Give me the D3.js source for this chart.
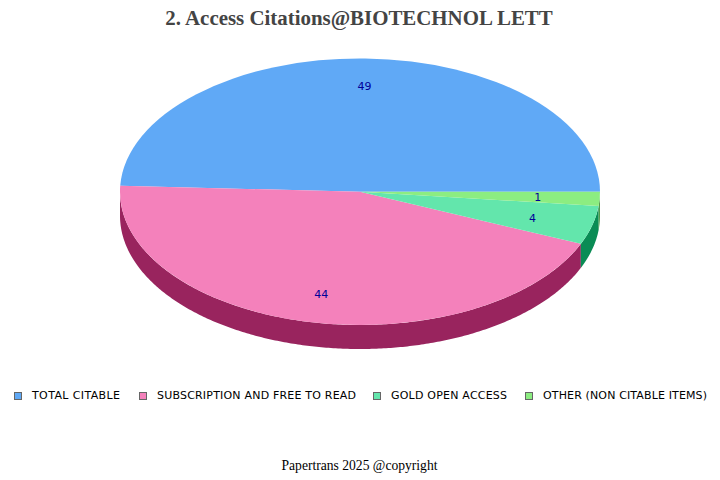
<!DOCTYPE html>
<html>
<head>
<meta charset="utf-8">
<script src="https://cdn.jsdelivr.net/npm/d3@7"></script>
<style>
  html, body { margin: 0; padding: 0; background: #fff; }
</style>
</head>
<body>
<div id="chart"></div>
<script>
// Data
const categories = ["TOTAL CITABLE", "SUBSCRIPTION AND FREE TO READ", "GOLD OPEN ACCESS", "OTHER (NON CITABLE ITEMS)"];
const shares = [49.3, 44.3, 4.7, 1.7];
const shownLabels = [49, 44, 4, 1];
const topColors = ["#60A9F6", "#F481BB", "#63E6AC", "#8CED81"];
const sideColors = ["#2A6CB0", "#99245E", "#0A8C55", "#4F9A4A"];

const width = 720, height = 480;
const cx = 360, cy = 191.7, rx = 240, ry = 133.3, depth = 24;

// Legend layout: left edge of each swatch and width of each text
const legendLefts = [14, 139, 373, 525];
const legendTextWidths = [88, 199, 116, 164];

const svg = d3.select("#chart").append("svg")
    .attr("width", width)
    .attr("height", height)
    .style("display", "block");

svg.append("text")
    .attr("x", 359)
    .attr("y", 25)
    .attr("text-anchor", "middle")
    .attr("font-family", "'Liberation Serif'")
    .attr("font-weight", "bold")
    .attr("font-size", 20.9)
    .attr("fill", "#444444")
    .text("2. Access Citations@BIOTECHNOL LETT");

// Slices run anticlockwise from 3 o'clock, d3 angles are clockwise from 12
const pie = d3.pie()
    .sort(null)
    .startAngle(Math.PI / 2 + 2 * Math.PI)
    .endAngle(Math.PI / 2);
const slices = pie(shares);

const px = a => cx + rx * Math.sin(a);
const py = a => cy - ry * Math.cos(a);

// Side wall, only the front half of the rim shows
const rimStart = Math.PI / 2, rimEnd = 3 * Math.PI / 2;
const wall = svg.append("g");
slices.forEach((s, i) => {
    const a0 = Math.max(Math.min(s.startAngle, s.endAngle), rimStart);
    const a1 = Math.min(Math.max(s.startAngle, s.endAngle), rimEnd);
    if (a1 <= a0) return;
    const steps = d3.range(a0, a1, 0.01).concat([a1]);
    const area = d3.area()
        .x(a => px(a))
        .y0(a => py(a))
        .y1(a => py(a) + depth);
    wall.append("path")
        .attr("d", area(steps))
        .attr("fill", sideColors[i]);
});

// Top face
const arc = d3.arc().innerRadius(0).outerRadius(rx);
svg.append("g")
    .attr("transform", `translate(${cx},${cy}) scale(1,${ry / rx})`)
    .selectAll("path")
    .data(slices)
    .enter().append("path")
    .attr("d", arc)
    .attr("fill", (d, i) => topColors[i]);

// Value labels
svg.append("g")
    .selectAll("text")
    .data(slices)
    .enter().append("text")
    .attr("x", d => cx + 0.5 + 0.74 * rx * Math.sin((d.startAngle + d.endAngle) / 2))
    .attr("y", d => cy - 0.79 * ry * Math.cos((d.startAngle + d.endAngle) / 2))
    .attr("dy", "0.35em")
    .attr("text-anchor", "middle")
    .attr("font-family", "'DejaVu Sans'")
    .attr("font-size", 11)
    .attr("fill", "#000099")
    .text((d, i) => shownLabels[i]);

// Legend
const legend = svg.append("g");
categories.forEach((name, i) => {
    legend.append("rect")
        .attr("x", legendLefts[i] + 0.5)
        .attr("y", 392.5)
        .attr("width", 7)
        .attr("height", 7)
        .attr("fill", topColors[i])
        .attr("stroke", "#666666");
    legend.append("text")
        .attr("x", legendLefts[i] + 18)
        .attr("y", 399)
        .attr("font-family", "'DejaVu Sans'")
        .attr("font-size", 11)
        .attr("textLength", legendTextWidths[i])
        .attr("fill", "#000000")
        .text(name);
});

svg.append("text")
    .attr("x", 359.5)
    .attr("y", 470)
    .attr("text-anchor", "middle")
    .attr("font-family", "'Liberation Serif'")
    .attr("font-size", 13.6)
    .attr("fill", "#000000")
    .text("Papertrans 2025 @copyright");
</script>
</body>
</html>
